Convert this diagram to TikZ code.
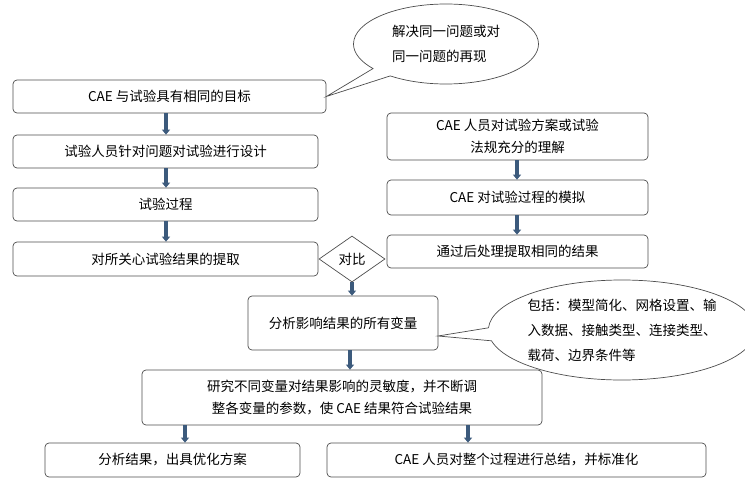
\documentclass[tikz,border=0pt]{standalone}
\usepackage{fontspec}
\setmainfont{Noto Sans CJK SC}
\usetikzlibrary{shapes.geometric,shapes.callouts,arrows.meta}
\definecolor{arr}{HTML}{3C5A7C}
\tikzset{
  bx/.style={draw=black!70,rounded corners=4pt,line width=0.7pt,font=\fontsize{13.5}{22}\selectfont,align=center,inner sep=0pt},
  ar/.style={draw=arr,line width=3.2pt,-{Triangle[length=5pt,width=8pt]}},
  co/.style={ellipse callout,draw=black!70,line width=0.7pt,font=\fontsize{13.5}{25}\selectfont,align=left,inner sep=0pt}
}
\begin{document}
\begin{tikzpicture}[x=1pt,y=-1pt]
\useasboundingbox (0,0) rectangle (745,487);
\def\bxx#1#2#3#4#5#6{\node[bx,minimum width=#4-#2,minimum height=#5-#3] (#1) at ({(#2+#4)/2},{(#3+#5)/2}) {#6};}
\bxx{A}{13}{80}{326}{113}{CAE 与试验具有相同的目标}
\bxx{B}{13}{135}{318}{168}{试验人员针对问题对试验进行设计}
\bxx{C}{13}{188}{318}{221}{试验过程}
\bxx{D}{13}{242}{318}{276}{对所关心试验结果的提取}
\bxx{E}{387}{113}{648}{160}{CAE 人员对试验方案或试验\\法规充分的理解}
\bxx{F}{387}{180}{648}{215}{CAE 对试验过程的模拟}
\bxx{G}{387}{235}{648}{268}{通过后处理提取相同的结果}
\bxx{H}{248}{296}{438}{350}{分析影响结果的所有变量}
\bxx{I}{142}{370}{542}{425}{研究不同变量对结果影响的灵敏度，并不断调\\整各变量的参数，使 CAE 结果符合试验结果}
\bxx{J}{45}{443}{300}{477}{分析结果，出具优化方案}
\bxx{K}{327}{443}{706}{477}{CAE 人员对整个过程进行总结，并标准化}
\node[diamond,draw=black!70,line width=0.7pt,minimum width=66pt,minimum height=46pt,inner sep=0pt,font=\fontsize{13.5}{15}\selectfont] (V) at (352,259) {对比};
\coordinate (t1) at (A.east);
\node[co,minimum width=185pt,minimum height=80pt,callout absolute pointer={(t1)}] (P) at (446,44) {解决同一问题或对\\同一问题的再现};
\coordinate (t2) at (438,336);
\node[co,minimum width=236pt,minimum height=100pt,callout absolute pointer={(t2)}] (Q) at (622,330) {包括：模型简化、网格设置、输\\入数据、接触类型、连接类型、\\载荷、边界条件等};
\draw[ar] (A.south -| 166,0) -- (B.north -| 166,0);
\draw[ar] (B.south -| 166,0) -- (C.north -| 166,0);
\draw[ar] (C.south -| 166,0) -- (D.north -| 166,0);
\draw[ar] (E.south -| 517,0) -- (F.north -| 517,0);
\draw[ar] (F.south -| 517,0) -- (G.north -| 517,0);
\draw[ar] (V.south) -- (V.south |- H.north);
\draw[ar] (H.south -| 350,0) -- (I.north -| 350,0);
\draw[ar] (I.south -| 185,0) -- (J.north -| 185,0);
\draw[ar] (I.south -| 468,0) -- (K.north -| 468,0);
\end{tikzpicture}
\end{document}
